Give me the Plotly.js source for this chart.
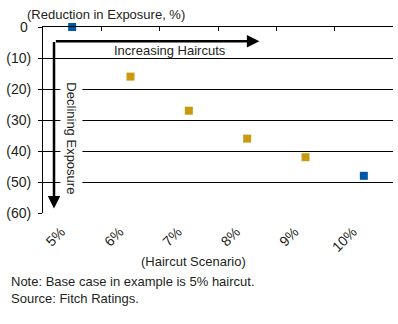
<!DOCTYPE html>
<html>
<head>
<meta charset="utf-8">
<script src="https://cdn.plot.ly/plotly-3.0.1.min.js"></script>
<style>html,body{margin:0;padding:0;background:#fff}#chart{width:398px;height:324px}</style>
</head>
<body>
<div id="chart"></div>
<script>
const categories = ["5%", "6%", "7%", "8%", "9%", "10%"];
const reduction = [0, -16, -27, -36, -42, -48];
const pointColors = ["#0058A3", "#C9990F", "#C9990F", "#C9990F", "#C9990F", "#0058A3"];
const yTickVals = [0, -10, -20, -30, -40, -50, -60];
const yTickText = ["0\u2005", "(10)", "(20)", "(30)", "(40)", "(50)", "(60)"];

const txt = "#231F20";
const fontFam = "Liberation Sans, Arial, sans-serif";

const traces = [
  {
    x: categories, y: reduction, type: "scatter", mode: "markers",
    marker: {symbol: "square", size: 8, color: pointColors},
    cliponaxis: false, hoverinfo: "skip", showlegend: false
  },
  {
    x: categories, y: reduction, type: "scatter", mode: "markers",
    xaxis: "x2", marker: {opacity: 0}, hoverinfo: "skip", showlegend: false
  }
];

const layout = {
  width: 398, height: 324,
  margin: {l: 43, r: 5, t: 27, b: 111},
  paper_bgcolor: "#fff", plot_bgcolor: "#fff",
  font: {family: fontFam, size: 13, color: txt},
  title: {text: "(Reduction in Exposure, %)", x: 27/398, xanchor: "left", xref: "container",
          y: 1 - 14/324, yanchor: "middle", font: {size: 13, color: txt}},
  xaxis: {
    type: "category", categoryorder: "array", categoryarray: categories,
    range: [-0.5, 5.5], showline: false, showgrid: false, zeroline: false,
    ticks: "", tickangle: -45, tickfont: {size: 14, color: txt},
    ticklabelstandoff: 7, ticklabelshift: -11
  },
  xaxis2: {
    type: "category", categoryorder: "array", categoryarray: categories,
    overlaying: "x", side: "top", anchor: "y", range: [-0.5, 5.5],
    showline: true, linecolor: "#000", linewidth: 1,
    ticks: "inside", ticklen: 4, tickcolor: "#000", tickwidth: 1,
    tickson: "boundaries", showticklabels: false, showgrid: false, zeroline: false
  },
  yaxis: {
    range: [-60, 0], tickmode: "array", tickvals: yTickVals, ticktext: yTickText,
    showline: true, linecolor: "#000", linewidth: 1,
    ticks: "outside", ticklen: 4, tickcolor: "#000", tickwidth: 1,
    showgrid: true, gridcolor: "#000", gridwidth: 1, zeroline: false,
    tickfont: {size: 14, color: txt}, ticklabelstandoff: 4
  },
  annotations: [
    {text: "", xref: "paper", yref: "paper", x: (259.3-43.3)/349.4, y: (213-41)/186.3,
     showarrow: true, ax: -205, ay: 0, arrowhead: 2, arrowsize: 1, arrowwidth: 2.5, arrowcolor: "#000"},
    {text: "", xref: "paper", yref: "paper", x: (54.3-43.3)/349.4, y: (213-208.5)/186.3,
     showarrow: true, ax: 0, ay: -168, arrowhead: 2, arrowsize: 1, arrowwidth: 2.5, arrowcolor: "#000"},
    {text: "Increasing Haircuts", xref: "paper", yref: "paper", x: (170-43.3)/349.4, y: (213-50)/186.3,
     showarrow: false, xanchor: "center", yanchor: "middle", font: {size: 13, color: txt}},
    {text: "Declining Exposure", xref: "paper", yref: "paper", x: (72-43.3)/349.4, y: (213-138)/186.3,
     showarrow: false, textangle: 90, xanchor: "center", yanchor: "middle", bgcolor: "#fff", borderpad: 3,
     font: {size: 13, color: txt}},
    {text: "(Haircut Scenario)", xref: "paper", yref: "paper", x: (194-43.3)/349.4, y: (213-262)/186.3,
     showarrow: false, xanchor: "center", yanchor: "middle", font: {size: 13, color: txt}},
    {text: "Note: Base case in example is 5% haircut.<br>Source: Fitch Ratings.", xref: "paper", yref: "paper",
     x: (9-43.3)/349.4, y: (213-290.5)/186.3, showarrow: false, xanchor: "left", yanchor: "middle", align: "left",
     font: {size: 13, color: txt}}
  ]
};

Plotly.newPlot("chart", traces, layout, {displayModeBar: false, staticPlot: true});
</script>
</body>
</html>
